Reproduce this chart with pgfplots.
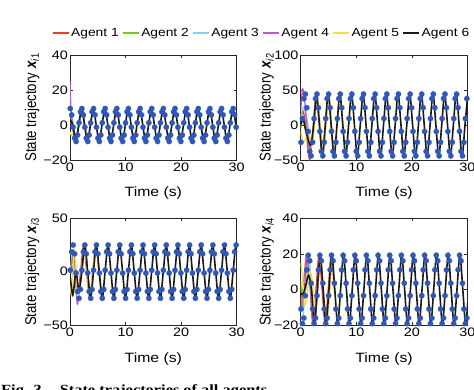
\documentclass[border=0pt]{standalone}
\usepackage{fontspec}
\setmainfont{Liberation Sans}[FakeStretch=1.17]
\newfontfamily\ylabfont{Liberation Sans}[FakeStretch=0.85]
\newfontfamily\capfont{Liberation Serif}[FakeStretch=1.17]
\usepackage{pgfplots}
\usepackage{pgfplotstable}
\pgfplotsset{compat=1.18}
\definecolor{agR}{RGB}{232,62,50}
\definecolor{agG}{RGB}{120,200,30}
\definecolor{agC}{RGB}{125,215,230}
\definecolor{agM}{RGB}{190,90,200}
\definecolor{agY}{RGB}{245,225,70}
\definecolor{agK}{RGB}{25,25,25}
\definecolor{mk}{RGB}{48,88,185}

\pgfplotstableread{
t y1 y2 y3 y4
0.05 9.42 -24.7 1.35 -11.0
0.31 5.77 9.2 18.6 -19.2
0.57 -1.25 37.7 24.96 -16.1
0.84 -7.54 44.1 16.7 -3.5
1.10 -9.42 24.7 -1.35 11.0
1.36 -5.77 -9.2 -18.6 19.2
1.62 1.25 -37.7 -24.96 16.1
1.88 7.54 -44.1 -16.7 3.5
2.14 9.42 -24.7 1.35 -11.0
2.41 5.77 9.2 18.6 -19.2
2.67 -1.25 37.7 24.96 -16.1
2.93 -7.54 44.1 16.7 -3.5
3.19 -9.42 24.7 -1.35 11.0
3.45 -5.77 -9.2 -18.6 19.2
3.72 1.25 -37.7 -24.96 16.1
3.98 7.54 -44.1 -16.7 3.5
4.24 9.42 -24.7 1.35 -11.0
4.50 5.77 9.2 18.6 -19.2
4.76 -1.25 37.7 24.96 -16.1
5.02 -7.54 44.1 16.7 -3.5
5.29 -9.42 24.7 -1.35 11.0
5.55 -5.77 -9.2 -18.6 19.2
5.81 1.25 -37.7 -24.96 16.1
6.07 7.54 -44.1 -16.7 3.5
6.33 9.42 -24.7 1.35 -11.0
6.60 5.77 9.2 18.6 -19.2
6.86 -1.25 37.7 24.96 -16.1
7.12 -7.54 44.1 16.7 -3.5
7.38 -9.42 24.7 -1.35 11.0
7.64 -5.77 -9.2 -18.6 19.2
7.90 1.25 -37.7 -24.96 16.1
8.17 7.54 -44.1 -16.7 3.5
8.43 9.42 -24.7 1.35 -11.0
8.69 5.77 9.2 18.6 -19.2
8.95 -1.25 37.7 24.96 -16.1
9.21 -7.54 44.1 16.7 -3.5
9.48 -9.42 24.7 -1.35 11.0
9.74 -5.77 -9.2 -18.6 19.2
10.00 1.25 -37.7 -24.96 16.1
10.26 7.54 -44.1 -16.7 3.5
10.52 9.42 -24.7 1.35 -11.0
10.78 5.77 9.2 18.6 -19.2
11.05 -1.25 37.7 24.96 -16.1
11.31 -7.54 44.1 16.7 -3.5
11.57 -9.42 24.7 -1.35 11.0
11.83 -5.77 -9.2 -18.6 19.2
12.09 1.25 -37.7 -24.96 16.1
12.36 7.54 -44.1 -16.7 3.5
12.62 9.42 -24.7 1.35 -11.0
12.88 5.77 9.2 18.6 -19.2
13.14 -1.25 37.7 24.96 -16.1
13.40 -7.54 44.1 16.7 -3.5
13.66 -9.42 24.7 -1.35 11.0
13.93 -5.77 -9.2 -18.6 19.2
14.19 1.25 -37.7 -24.96 16.1
14.45 7.54 -44.1 -16.7 3.5
14.71 9.42 -24.7 1.35 -11.0
14.97 5.77 9.2 18.6 -19.2
15.24 -1.25 37.7 24.96 -16.1
15.50 -7.54 44.1 16.7 -3.5
15.76 -9.42 24.7 -1.35 11.0
16.02 -5.77 -9.2 -18.6 19.2
16.28 1.25 -37.7 -24.96 16.1
16.54 7.54 -44.1 -16.7 3.5
16.81 9.42 -24.7 1.35 -11.0
17.07 5.77 9.2 18.6 -19.2
17.33 -1.25 37.7 24.96 -16.1
17.59 -7.54 44.1 16.7 -3.5
17.85 -9.42 24.7 -1.35 11.0
18.11 -5.77 -9.2 -18.6 19.2
18.38 1.25 -37.7 -24.96 16.1
18.64 7.54 -44.1 -16.7 3.5
18.90 9.42 -24.7 1.35 -11.0
19.16 5.77 9.2 18.6 -19.2
19.42 -1.25 37.7 24.96 -16.1
19.69 -7.54 44.1 16.7 -3.5
19.95 -9.42 24.7 -1.35 11.0
20.21 -5.77 -9.2 -18.6 19.2
20.47 1.25 -37.7 -24.96 16.1
20.73 7.54 -44.1 -16.7 3.5
20.99 9.42 -24.7 1.35 -11.0
21.26 5.77 9.2 18.6 -19.2
21.52 -1.25 37.7 24.96 -16.1
21.78 -7.54 44.1 16.7 -3.5
22.04 -9.42 24.7 -1.35 11.0
22.30 -5.77 -9.2 -18.6 19.2
22.57 1.25 -37.7 -24.96 16.1
22.83 7.54 -44.1 -16.7 3.5
23.09 9.42 -24.7 1.35 -11.0
23.35 5.77 9.2 18.6 -19.2
23.61 -1.25 37.7 24.96 -16.1
23.87 -7.54 44.1 16.7 -3.5
24.14 -9.42 24.7 -1.35 11.0
24.40 -5.77 -9.2 -18.6 19.2
24.66 1.25 -37.7 -24.96 16.1
24.92 7.54 -44.1 -16.7 3.5
25.18 9.42 -24.7 1.35 -11.0
25.45 5.77 9.2 18.6 -19.2
25.71 -1.25 37.7 24.96 -16.1
25.97 -7.54 44.1 16.7 -3.5
26.23 -9.42 24.7 -1.35 11.0
26.49 -5.77 -9.2 -18.6 19.2
26.75 1.25 -37.7 -24.96 16.1
27.02 7.54 -44.1 -16.7 3.5
27.28 9.42 -24.7 1.35 -11.0
27.54 5.77 9.2 18.6 -19.2
27.80 -1.25 37.7 24.96 -16.1
28.06 -7.54 44.1 16.7 -3.5
28.32 -9.42 24.7 -1.35 11.0
28.59 -5.77 -9.2 -18.6 19.2
28.85 1.25 -37.7 -24.96 16.1
29.11 7.54 -44.1 -16.7 3.5
29.37 9.42 -24.7 1.35 -11.0
29.63 5.77 9.2 18.6 -19.2
29.90 -1.25 37.7 24.96 -16.1
}\marks

\pgfplotsset{
  myax/.style={
    scale only axis, width=166.7pt, anchor=south west,
    xmin=0, xmax=30, xtick={0,10,20,30}, xticklabels={0,10,20,30},
    tick align=inside, major tick length=3pt,
    axis line style={line width=0.5pt, black!85},
    every tick/.style={line width=0.5pt, black!85},
    ticklabel style={font=\fontsize{12.3}{12.3}\selectfont},
    xticklabel style={inner sep=2.4pt},
    yticklabel style={inner sep=2pt},
    xlabel style={font=\fontsize{13.5}{14}\selectfont, at={(axis description cs:0.5,-0.318)}, anchor=center},
    ylabel style={font=\ylabfont\fontsize{15.6}{16}\selectfont},
    xlabel={Time (s)},
    every axis plot/.append style={line width=1.3pt, smooth, no markers},
  },
  mkplot/.style={only marks, mark=*, mark size=2.7pt, mark options={fill=mk, draw=mk, line width=0.2pt}, forget plot},
}

\begin{document}
\begin{tikzpicture}
\path[use as bounding box] (0,0) rectangle (474pt,389pt);

% ---------------- x_i1
\begin{axis}[myax, at={(70pt,229pt)}, height=105pt,
  ymin=-20, ymax=40, ytick={-20,0,20,40}, yticklabels={−20,0,20,40},
  ylabel={State trajectory \textbf{\textit{x}}\textsubscript{\textit{i}1}},
  ylabel style={at={(axis description cs:-0.228,0.5)}, anchor=center},
  legend style={at={(-0.11,1.21)}, anchor=west, draw=none, fill=none, inner sep=0pt,
    font=\fontsize{11.8}{12}\selectfont, legend columns=6,
    /tikz/every even column/.append style={column sep=1.2pt}},
  legend image code/.code={\draw[#1, line width=1.3pt] (0pt,0pt) -- (16pt,0pt);},
]
\addplot[agR] coordinates {(0,4)(0.5,-3)(1.1,-9.8)(1.6,0)(2.2,10)(2.65,0)(3.15,-9.6)(3.67,0)(4.19,9.5)};
\addplot[agG] coordinates {(0,10)(0.2,6)(0.6,-2)(1.05,-9)(1.576,0)(2.1,9.5)(2.624,0)};
\addplot[agC] coordinates {(0,6)(0.3,7)(0.8,-4)(1.2,-8)(1.7,2)(2.1,9.3)(2.62,0)(3.15,-9.5)};
\addplot[agM] coordinates {(0,25)(0.1,14)(0.3,4)(0.6,-4)(1.05,-9)(1.576,0)(2.1,9.5)(2.62,0)};
\addplot[agY] coordinates {(0,-4)(0.3,-6)(0.7,-3)(1.1,-8.5)(1.6,1)(2.1,9)(2.62,0)(3.15,-9.5)};
\addplot[agK, line width=1.6pt] coordinates {(0,3)(0.529,0)(1.053,-9.5)(1.576,0)(2.1,9.5)(2.624,0)(3.147,-9.5)(3.671,0)(4.194,9.5)(4.718,0)(5.242,-9.5)(5.765,0)(6.289,9.5)(6.812,0)(7.336,-9.5)(7.86,0)(8.383,9.5)(8.907,0)(9.43,-9.5)(9.954,0)(10.478,9.5)(11.001,0)(11.525,-9.5)(12.048,0)(12.572,9.5)(13.096,0)(13.619,-9.5)(14.143,0)(14.666,9.5)(15.19,0)(15.714,-9.5)(16.237,0)(16.761,9.5)(17.284,0)(17.808,-9.5)(18.332,0)(18.855,9.5)(19.379,0)(19.902,-9.5)(20.426,0)(20.95,9.5)(21.473,0)(21.997,-9.5)(22.52,0)(23.044,9.5)(23.568,0)(24.091,-9.5)(24.615,0)(25.138,9.5)(25.662,0)(26.186,-9.5)(26.709,0)(27.233,9.5)(27.756,0)(28.28,-9.5)(28.804,0)(29.327,9.5)(29.851,0)(30.374,-9.5)};
\addplot[mkplot] table[x=t, y=y1] {\marks};
\legend{Agent 1, Agent 2, Agent 3, Agent 4, Agent 5, Agent 6}
\end{axis}

% ---------------- x_i2
\begin{axis}[myax, at={(300.7pt,229pt)}, height=105pt,
  ymin=-50, ymax=100, ytick={-50,0,50,100}, yticklabels={−50,0,50,100},
  ylabel={State trajectory \textbf{\textit{x}}\textsubscript{\textit{i}2}},
  ylabel style={at={(axis description cs:-0.205,0.5)}, anchor=center},
]
\addplot[agR] coordinates {(0,5)(0.4,20)(0.9,0)(1.6,-50)(2.2,-5)(2.75,42)(3.3,5)(3.9,-44)(4.43,0)(4.96,45)(5.48,0)(6.0,-45)};
\addplot[agG] coordinates {(0,-5)(0.5,10)(1.0,-10)(1.8,-35)(2.34,0)(2.86,45)(3.39,0)(3.91,-45)};
\addplot[agC] coordinates {(0,10)(0.5,25)(1.2,5)(1.8,-30)(2.34,0)(2.86,43)(3.39,0)(3.91,-45)};
\addplot[agM] coordinates {(0,20)(0.3,50)(0.6,45)(1.0,10)(1.6,-35)(2.34,0)(2.86,46)(3.39,0)(3.91,-45)};
\addplot[agY] coordinates {(0,-8)(0.4,-25)(0.9,-20)(1.4,-5)(2.0,-30)(2.48,0)(3.0,40)(3.52,0)(4.05,-43)(4.56,0)(5.08,44)(5.59,0)(6.1,-45)(6.61,0)(7.12,45)(7.63,0)(8.14,-45)(8.65,0)(9.15,45)};
\addplot[agK, line width=1.6pt] coordinates {(0,0)(0.4,10)(0.9,-8)(1.5,-25)(1.9,-28)(2.338,0)(2.861,42)(3.385,0)(3.909,-45)(4.432,0)(4.956,45)(5.479,0)(6.003,-45)(6.527,0)(7.05,45)(7.574,0)(8.097,-45)(8.621,0)(9.145,45)(9.668,0)(10.192,-45)(10.716,0)(11.239,45)(11.763,0)(12.286,-45)(12.81,0)(13.334,45)(13.857,0)(14.381,-45)(14.904,0)(15.428,45)(15.952,0)(16.475,-45)(16.999,0)(17.523,45)(18.046,0)(18.57,-45)(19.093,0)(19.617,45)(20.141,0)(20.664,-45)(21.188,0)(21.711,45)(22.235,0)(22.759,-45)(23.282,0)(23.806,45)(24.329,0)(24.853,-45)(25.377,0)(25.9,45)(26.424,0)(26.947,-45)(27.471,0)(27.995,45)(28.518,0)(29.042,-45)(29.566,0)(30.089,45)};
\addplot[mkplot] table[x=t, y=y2] {\marks};
\end{axis}

% ---------------- x_i3
\begin{axis}[myax, at={(70pt,64pt)}, height=106.7pt,
  ymin=-50, ymax=50, ytick={-50,0,50}, yticklabels={−50,0,50},
  ylabel={State trajectory \textbf{\textit{x}}\textsubscript{\textit{i}3}},
  ylabel style={at={(axis description cs:-0.228,0.5)}, anchor=center},
]
\addplot[agR] coordinates {(0,-5)(0.5,5)(1.0,-10)(1.5,-20)(1.9,0)(2.45,25)(3.0,0)(3.55,-25)(4.1,0)(4.65,25)(5.2,0)(5.79,-25)};
\addplot[agG] coordinates {(0,0)(0.5,15)(1.08,0)(1.6,-20)(2.13,0)(2.65,25)(3.17,0)};
\addplot[agC] coordinates {(0,20)(0.3,15)(0.6,5)(1.08,-5)(1.6,-18)(2.13,0)(2.65,25)(3.17,0)};
\addplot[agM] coordinates {(0,-5)(0.4,10)(0.8,15)(1.3,-30)(1.8,-10)(2.3,10)(2.7,24)(3.17,0)(3.7,-25)(4.22,0)};
\addplot[agY] coordinates {(0,-10)(0.3,-22)(0.6,10)(0.9,20)(1.2,-10)(1.5,-22)(2.0,-5)(2.5,20)(3.0,5)(3.5,-22)(4.1,0)(4.7,25)(5.27,0)(5.79,-25)};
\addplot[agK, line width=1.6pt] coordinates {(0,-2)(0.5,-22)(1.08,0)(1.6,-18)(2.127,0)(2.65,25)(3.174,0)(3.698,-25)(4.221,0)(4.745,25)(5.268,0)(5.792,-25)(6.316,0)(6.839,25)(7.363,0)(7.886,-25)(8.41,0)(8.934,25)(9.457,0)(9.981,-25)(10.504,0)(11.028,25)(11.552,0)(12.075,-25)(12.599,0)(13.122,25)(13.646,0)(14.17,-25)(14.693,0)(15.217,25)(15.74,0)(16.264,-25)(16.788,0)(17.311,25)(17.835,0)(18.358,-25)(18.882,0)(19.406,25)(19.929,0)(20.453,-25)(20.976,0)(21.5,25)(22.024,0)(22.547,-25)(23.071,0)(23.594,25)(24.118,0)(24.642,-25)(25.165,0)(25.689,25)(26.212,0)(26.736,-25)(27.26,0)(27.783,25)(28.307,0)(28.83,-25)(29.354,0)(29.878,25)(30.401,0)};
\addplot[mkplot] table[x=t, y=y3] {\marks};
\end{axis}

% ---------------- x_i4
\begin{axis}[myax, at={(300.7pt,64pt)}, height=106.7pt,
  ymin=-20, ymax=40, ytick={-20,0,20,40}, yticklabels={−20,0,20,40},
  ylabel={State trajectory \textbf{\textit{x}}\textsubscript{\textit{i}4}},
  ylabel style={at={(axis description cs:-0.205,0.5)}, anchor=center},
]
\addplot[agR] coordinates {(0,-5)(0.3,-10)(0.8,5)(1.3,20)(1.75,0)(2.2,-20)(2.75,0)(3.3,19.5)(3.85,0)(4.4,-19.5)(4.95,0)(5.5,19.5)(6.05,0)};
\addplot[agG] coordinates {(0,5)(0.4,-10)(0.9,0)(1.42,17)(1.94,0)(2.47,-19.5)(2.99,0)};
\addplot[agC] coordinates {(0,-15)(0.4,-15)(0.9,2)(1.42,18)(1.94,0)(2.47,-19)(2.99,0)(3.51,19.5)};
\addplot[agM] coordinates {(0,-10)(0.3,-5)(0.7,10)(1.1,20)(1.6,5)(2.1,-15)(2.5,-19)(3.0,-3)(3.51,19)(4.04,0)};
\addplot[agY] coordinates {(0,15)(0.3,8)(0.7,-8)(1.1,-5)(1.6,10)(2.1,5)(2.6,-12)(3.1,3)(3.6,17)(4.1,0)(4.62,-18)(5.2,-5)(5.65,19)(6.13,0)(6.66,-19.5)(7.18,0)};
\addplot[agK, line width=1.6pt] coordinates {(0,-2)(0.4,-3)(0.9,2)(1.42,8)(1.944,0)(2.467,-19.5)(2.991,0)(3.514,19)(4.038,0)(4.562,-19.5)(5.085,0)(5.609,19.5)(6.132,0)(6.656,-19.5)(7.18,0)(7.703,19.5)(8.227,0)(8.75,-19.5)(9.274,0)(9.798,19.5)(10.321,0)(10.845,-19.5)(11.368,0)(11.892,19.5)(12.416,0)(12.939,-19.5)(13.463,0)(13.986,19.5)(14.51,0)(15.034,-19.5)(15.557,0)(16.081,19.5)(16.604,0)(17.128,-19.5)(17.652,0)(18.175,19.5)(18.699,0)(19.222,-19.5)(19.746,0)(20.27,19.5)(20.793,0)(21.317,-19.5)(21.84,0)(22.364,19.5)(22.888,0)(23.411,-19.5)(23.935,0)(24.458,19.5)(24.982,0)(25.506,-19.5)(26.029,0)(26.553,19.5)(27.076,0)(27.6,-19.5)(28.124,0)(28.647,19.5)(29.171,0)(29.694,-19.5)(30.218,0)};
\addplot[mkplot] table[x=t, y=y4] {\marks};
\end{axis}

\node[anchor=base west, inner sep=0pt, font=\capfont\bfseries\fontsize{14}{14}\selectfont] at (1pt,-5.5pt) {Fig. 3.\quad State trajectories of all agents.};
\end{tikzpicture}
\end{document}
